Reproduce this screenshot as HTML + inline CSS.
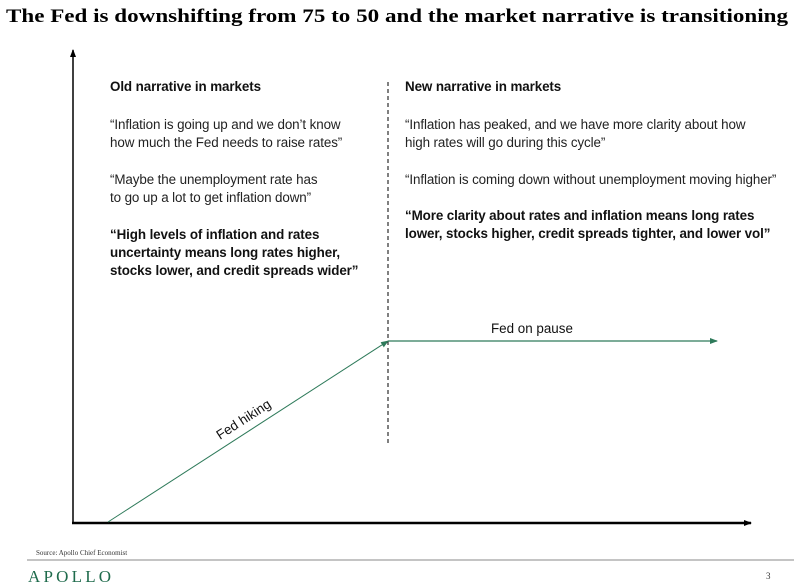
<!DOCTYPE html>
<html><head><meta charset="utf-8"><style>
body{margin:0;width:794px;height:588px;background:#fff;overflow:hidden;position:relative;font-family:"Liberation Sans",sans-serif}
.t{position:absolute;font-size:13.4px;color:#222;line-height:18px;white-space:nowrap;letter-spacing:-0.1px}
.b{font-weight:bold;color:#111}
</style></head><body>
<svg width="794" height="588" style="position:absolute;left:0;top:0">
<defs>
<marker id="ab" markerWidth="8" markerHeight="8" refX="7" refY="4" orient="auto" markerUnits="userSpaceOnUse"><path d="M0,1 L8,4 L0,7 Z" fill="#000"/></marker>
<marker id="ag" markerWidth="8" markerHeight="8" refX="7" refY="4" orient="auto" markerUnits="userSpaceOnUse"><path d="M0,1 L8,4 L0,7 Z" fill="#2e7a5a"/></marker>
</defs>
<text x="397" y="22" text-anchor="middle" font-family="Liberation Serif,serif" font-weight="bold" font-size="19" textLength="782" lengthAdjust="spacingAndGlyphs">The Fed is downshifting from 75 to 50 and the market narrative is transitioning</text>
<line x1="73" y1="523" x2="73" y2="50" stroke="#000" stroke-width="1.5" marker-end="url(#ab)"/>
<line x1="72" y1="523" x2="751" y2="523" stroke="#000" stroke-width="2.5" marker-end="url(#ab)"/>
<line x1="388" y1="82" x2="388" y2="446" stroke="#000" stroke-width="1" stroke-dasharray="4,3"/>
<line x1="108" y1="522" x2="388" y2="341" stroke="#2e7a5a" stroke-width="1" marker-end="url(#ag)"/>
<line x1="388" y1="341" x2="717" y2="341" stroke="#2e7a5a" stroke-width="1.2" marker-end="url(#ag)"/>
<text x="0" y="0" transform="translate(220,440) rotate(-33)" font-size="13.4" fill="#111">Fed hiking</text>
<text x="491" y="333" font-size="13.4" fill="#111">Fed on pause</text>
<line x1="27" y1="560" x2="794" y2="560" stroke="#888" stroke-width="1"/>
<text x="36" y="555" font-family="Liberation Serif,serif" font-size="7" fill="#333">Source: Apollo Chief Economist</text>
<text x="28" y="582" font-family="Liberation Serif,serif" font-size="17" fill="#1f6b4c" letter-spacing="3.2">APOLLO</text>
<text x="766" y="579" font-family="Liberation Serif,serif" font-size="9" fill="#333">3</text>
</svg>
<div class="t b" style="left:110px;top:78px">Old narrative in markets</div>
<div class="t" style="left:110px;top:116px">“Inflation is going up and we don’t know<br>how much the Fed needs to raise rates”</div>
<div class="t" style="left:110px;top:171px">“Maybe the unemployment rate has<br>to go up a lot to get inflation down”</div>
<div class="t b" style="left:110px;top:226px">“High levels of inflation and rates<br>uncertainty means long rates higher,<br>stocks lower, and credit spreads wider”</div>
<div class="t b" style="left:405px;top:78px">New narrative in markets</div>
<div class="t" style="left:405px;top:116px">“Inflation has peaked, and we have more clarity about how<br>high rates will go during this cycle”</div>
<div class="t" style="left:405px;top:171px">“Inflation is coming down without unemployment moving higher”</div>
<div class="t b" style="left:405px;top:207px">“More clarity about rates and inflation means long rates<br>lower, stocks higher, credit spreads tighter, and lower vol”</div>
</body></html>
